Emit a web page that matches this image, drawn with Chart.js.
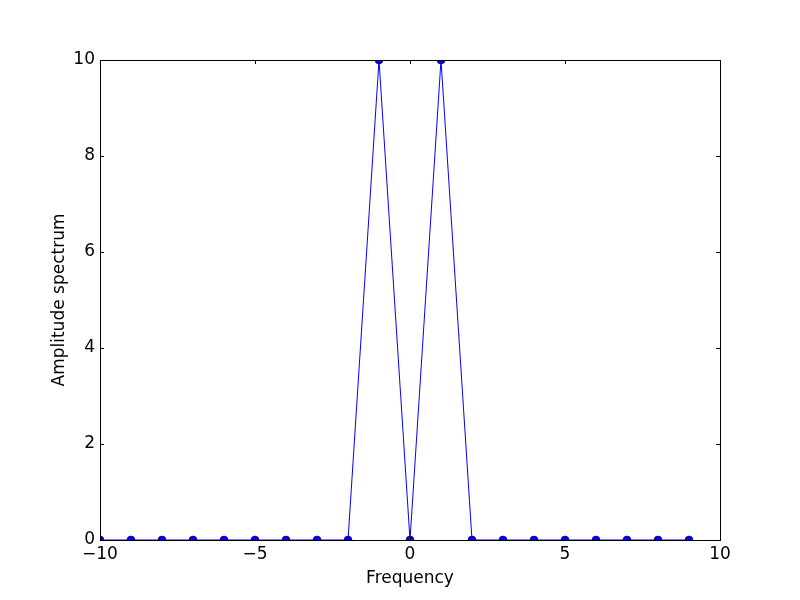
<!DOCTYPE html>
<html>
<head>
<meta charset="utf-8">
<script src="https://cdn.jsdelivr.net/npm/chart.js@4"></script>
<style>
  body { margin: 0; background: #fff; }
  #wrap { width: 800px; height: 600px; }
</style>
</head>
<body>
<div id="wrap"><canvas id="spec" width="800" height="600"></canvas></div>
<script>
var freqs = [-10, -9, -8, -7, -6, -5, -4, -3, -2, -1, 0, 1, 2, 3, 4, 5, 6, 7, 8, 9];
var amps  = [0, 0, 0, 0, 0, 0, 0, 0, 0, 10, 0, 10, 0, 0, 0, 0, 0, 0, 0, 0];
var xTicks = [-10, -5, 0, 5, 10];
var yTicks = [0, 2, 4, 6, 8, 10];

var points = [];
for (var i in freqs) {
    points.push({x: freqs[i], y: amps[i]});
}

function fmt(v) {
    return v < 0 ? '\u2212' + Math.abs(v) : String(v);
}

// matplotlib-ish frame with inward ticks on all four sides
var framePlugin = {
    id: 'frame',
    afterDraw: function(chart) {
        var c = chart.ctx, a = chart.chartArea;
        var xs = chart.scales.x, ys = chart.scales.y;
        c.save();
        c.strokeStyle = '#000';
        c.lineWidth = 1;
        c.beginPath();
        xTicks.forEach(function(t) {
            var px = Math.round(xs.getPixelForValue(t)) + 0.5;
            c.moveTo(px, a.bottom); c.lineTo(px, a.bottom - 4);
            c.moveTo(px, a.top); c.lineTo(px, a.top + 4);
        });
        yTicks.forEach(function(t) {
            var py = Math.round(ys.getPixelForValue(t)) + 0.5;
            c.moveTo(a.left, py); c.lineTo(a.left + 4, py);
            c.moveTo(a.right, py); c.lineTo(a.right - 4, py);
        });
        c.stroke();
        c.strokeRect(a.left + 0.5, a.top + 0.5, a.right - a.left, a.bottom - a.top);
        c.restore();
    }
};

var font = {family: 'DejaVu Sans', size: 17};

new Chart(document.getElementById('spec'), {
    type: 'scatter',
    data: {
        datasets: [{
            data: points,
            showLine: true,
            borderColor: '#0000ff',
            borderWidth: 1,
            backgroundColor: '#0000ff',
            pointBorderColor: '#000',
            pointBorderWidth: 0.5,
            pointRadius: 4,
            pointHoverRadius: 4,
            clip: 0
        }]
    },
    options: {
        responsive: false,
        animation: false,
        layout: {padding: {left: 0, top: 60, right: 80, bottom: 0}},
        plugins: {legend: {display: false}, tooltip: {enabled: false}},
        scales: {
            x: {
                type: 'linear',
                min: -10, max: 10,
                afterFit: function(s) { s.height = 60; },
                afterBuildTicks: function(s) { s.ticks = xTicks.map(function(v) { return {value: v}; }); },
                grid: {display: false, drawTicks: false},
                border: {display: false},
                ticks: {color: '#000', font: font, padding: 4, maxRotation: 0, callback: fmt},
                title: {display: true, text: 'Frequency', color: '#000', font: font, padding: {top: 0, bottom: 11}}
            },
            y: {
                min: 0, max: 10,
                afterFit: function(s) { s.width = 100; },
                afterBuildTicks: function(s) { s.ticks = yTicks.map(function(v) { return {value: v}; }); },
                grid: {display: false, drawTicks: false},
                border: {display: false},
                ticks: {color: '#000', font: font, padding: 5, callback: fmt},
                title: {display: true, text: 'Amplitude spectrum', color: '#000', font: font, padding: {top: 49, bottom: 0}}
            }
        }
    },
    plugins: [framePlugin]
});
</script>
</body>
</html>
